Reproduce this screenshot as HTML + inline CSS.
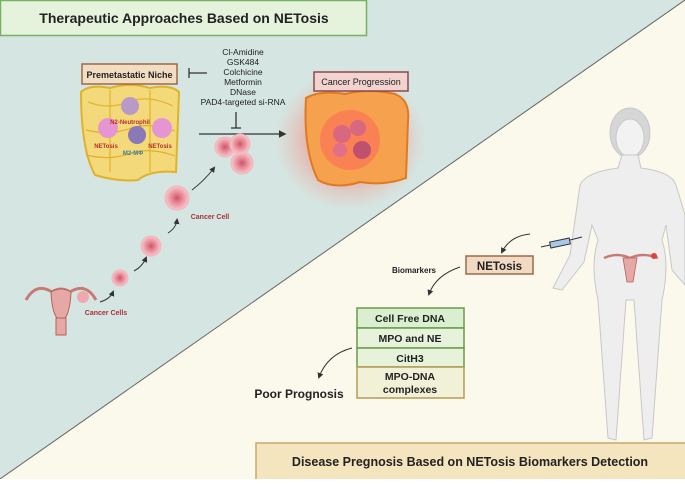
<!DOCTYPE html>
<html><head><style>
html,body{margin:0;padding:0}
body{width:685px;height:479px;overflow:hidden;font-family:"Liberation Sans",sans-serif}
</style></head><body>
<svg width="685" height="479" viewBox="0 0 685 479" xmlns="http://www.w3.org/2000/svg" font-family="Liberation Sans, sans-serif">
<defs>
<radialGradient id="glow"><stop offset="0" stop-color="#ff3b3b" stop-opacity="0.9"/><stop offset="0.6" stop-color="#ff6a5a" stop-opacity="0.35"/><stop offset="1" stop-color="#ff8a80" stop-opacity="0"/></radialGradient>
<radialGradient id="cell"><stop offset="0" stop-color="#c9566a"/><stop offset="0.45" stop-color="#e88a96"/><stop offset="1" stop-color="#f8c8cc"/></radialGradient>
<marker id="ah" markerWidth="6" markerHeight="6" refX="4" refY="3" orient="auto"><path d="M0,0 L6,3 L0,6 z" fill="#333"/></marker>
</defs>
<rect width="685" height="479" fill="#fbf8ec"/>
<polygon points="0,0 685,0 0,479" fill="#d5e5e1"/>
<line x1="685" y1="0" x2="0" y2="479" stroke="#666" stroke-width="1"/>
<!-- title -->
<rect x="0.5" y="0.5" width="366" height="35" fill="#e5f3dd" stroke="#77b163" stroke-width="1.5"/>
<text x="184" y="23" text-anchor="middle" font-size="14" font-weight="bold" fill="#222">Therapeutic Approaches Based on NETosis</text>
<!-- glow -->
<ellipse cx="350" cy="140" rx="75" ry="70" fill="url(#glow)"/>
<!-- niche tissue -->
<path d="M81,92 Q90,84 110,88 Q130,82 150,88 Q170,84 179,92 L176,172 Q150,170 138,180 Q118,182 95,175 Q81,150 81,92z" fill="#f3d97a" stroke="#e0b22a" stroke-width="2"/>
<g stroke="#e0b22a" fill="none" stroke-width="1.2">
<path d="M88,102 q20,8 40,0 q20,-8 45,4"/><path d="M86,130 q25,6 45,-2 q20,-6 44,3"/><path d="M86,155 q25,6 45,-2 q20,-6 44,3"/><path d="M110,90 v82"/><path d="M150,90 v82"/>
</g>
<circle cx="130" cy="106" r="9" fill="#b99ac6"/>
<circle cx="108" cy="128" r="10" fill="#e596d2"/>
<circle cx="162" cy="128" r="10" fill="#e596d2"/>
<circle cx="137" cy="135" r="9" fill="#8a78b8"/>
<text x="130" y="124" text-anchor="middle" font-size="6" font-weight="bold" fill="#b8312a">N2-Neutrophil</text>
<text x="106" y="148" text-anchor="middle" font-size="6" font-weight="bold" fill="#b8312a">NETosis</text>
<text x="160" y="148" text-anchor="middle" font-size="6" font-weight="bold" fill="#b8312a">NETosis</text>
<text x="133" y="155" text-anchor="middle" font-size="6" font-weight="bold" fill="#3a7f9a">M2-MΦ</text>
<rect x="82" y="64" width="95" height="20" fill="#f2dcc2" stroke="#9b6b4a" stroke-width="1.5"/>
<text x="129.5" y="78" text-anchor="middle" font-size="9" font-weight="bold" fill="#222">Premetastatic Niche</text>
<!-- drugs -->
<g font-size="8.5" text-anchor="middle" fill="#222">
<text x="243" y="55">Cl-Amidine</text><text x="243" y="65">GSK484</text><text x="243" y="75">Colchicine</text><text x="243" y="85">Metformin</text><text x="243" y="95">DNase</text><text x="243" y="105">PAD4-targeted si-RNA</text>
</g>
<g stroke="#333" stroke-width="1.3">
<line x1="189" y1="73" x2="207" y2="73"/><line x1="189" y1="68" x2="189" y2="78"/>
<line x1="236" y1="112" x2="236" y2="128"/><line x1="231" y1="128" x2="241" y2="128"/>
<line x1="199" y1="134" x2="284" y2="134" marker-end="url(#ah)"/>
</g>
<!-- cancer progression tissue -->
<path d="M306,98 Q320,90 345,94 Q370,88 395,94 Q410,100 408,120 L406,178 Q385,186 360,182 Q335,190 318,180 Q303,150 306,98z" fill="#f6a14d" stroke="#e07a22" stroke-width="2"/>
<circle cx="350" cy="140" r="30" fill="#ff5a5a" opacity="0.45"/>
<circle cx="342" cy="134" r="9" fill="#d86880"/><circle cx="358" cy="128" r="8" fill="#d86880"/><circle cx="362" cy="150" r="9" fill="#c05070"/><circle cx="340" cy="150" r="7" fill="#e07088"/>
<rect x="314" y="72" width="94" height="19" fill="#f2d3cf" stroke="#8a4a4a" stroke-width="1.5"/>
<text x="361" y="85" text-anchor="middle" font-size="9" fill="#222">Cancer Progression</text>
<!-- cancer cells -->
<circle cx="225" cy="147" r="10" fill="url(#cell)" stroke="#f2b4ba"/>
<circle cx="240" cy="144" r="10" fill="url(#cell)" stroke="#f2b4ba"/>
<circle cx="242" cy="163" r="11" fill="url(#cell)" stroke="#f2b4ba"/>
<circle cx="177" cy="198" r="12" fill="url(#cell)" stroke="#f2b4ba"/>
<circle cx="151" cy="246" r="10" fill="url(#cell)" stroke="#f2b4ba"/>
<circle cx="120" cy="278" r="8" fill="url(#cell)" stroke="#f2b4ba"/>
<circle cx="83" cy="297" r="6" fill="#f0a8b0"/>
<text x="210" y="219" text-anchor="middle" font-size="7" font-weight="bold" fill="#a8323a">Cancer Cell</text>
<text x="106" y="315" text-anchor="middle" font-size="7" font-weight="bold" fill="#a8323a">Cancer Cells</text>
<g stroke="#333" stroke-width="1" fill="none">
<path d="M192,190 Q205,180 214,168" marker-end="url(#ah)"/>
<path d="M168,233 Q176,228 177,220" marker-end="url(#ah)"/>
<path d="M134,271 Q142,267 146,258" marker-end="url(#ah)"/>
<path d="M100,302 Q110,299 113,292" marker-end="url(#ah)"/>
</g>
<!-- uterus -->
<g fill="#e6a8a4" stroke="#b5615c" stroke-width="1">
<path d="M26,300 Q36,282 52,292 Q61,286 70,292 Q86,282 96,300" fill="none" stroke="#c97a75" stroke-width="3"/>
<path d="M51,292 Q61,286 71,292 Q70,312 65,318 L57,318 Q52,312 51,292z"/>
<rect x="56" y="318" width="10" height="17"/>
</g>
<!-- woman -->
<g fill="#eeeeee" stroke="#c8c8c8" stroke-width="1">
<ellipse cx="630" cy="133" rx="20" ry="25" fill="#d6d6d6"/>
<ellipse cx="630" cy="138" rx="14" ry="19" fill="#f2f2f2"/>
<path d="M622,155 L638,155 L641,168 Q672,172 676,185 L685,215 L685,285 L672,270 L666,225 L662,240 Q670,265 662,300 L652,438 L644,440 L634,300 L626,300 L616,440 L608,438 L598,300 Q590,265 598,240 L592,225 L584,262 L562,290 L553,288 L570,255 L580,185 Q586,172 618,168z"/>
</g>
<path d="M604,258 Q617,252 630,258 Q643,252 658,258" fill="none" stroke="#c97a75" stroke-width="2.5"/>
<path d="M623,258 L637,258 L633,282 L627,282z" fill="#e6a8a4" stroke="#b5615c" stroke-width="0.8"/>
<circle cx="654" cy="256" r="3" fill="#e04040"/>
<!-- syringe -->
<g stroke="#333" stroke-width="1">
<rect x="550" y="240" width="20" height="6" fill="#a8c8e8" transform="rotate(-12 560 243)"/>
<line x1="570" y1="240" x2="582" y2="237"/>
<line x1="541" y1="247" x2="550" y2="245"/>
</g>
<path d="M530,234 Q510,236 502,252" fill="none" stroke="#333" stroke-width="1" marker-end="url(#ah)"/>
<!-- NETosis -->
<rect x="466" y="256" width="67" height="18" fill="#f2d9c3" stroke="#9b6b4a" stroke-width="1.5"/>
<text x="499.5" y="270" text-anchor="middle" font-size="11.5" font-weight="bold" fill="#222">NETosis</text>
<text x="414" y="273" text-anchor="middle" font-size="8" font-weight="bold" fill="#222">Biomarkers</text>
<path d="M460,267 Q436,275 429,294" fill="none" stroke="#333" stroke-width="1" marker-end="url(#ah)"/>
<!-- stack -->
<g stroke="#6a9a4e" stroke-width="1.5">
<rect x="357" y="308" width="107" height="20" fill="#d9efcf"/>
<rect x="357" y="328" width="107" height="20" fill="#e6f3da"/>
<rect x="357" y="348" width="107" height="19" fill="#e6f3da"/>
<rect x="357" y="367" width="107" height="31" fill="#f1f1d8" stroke="#b49a55"/>
</g>
<g font-size="10.5" font-weight="bold" text-anchor="middle" fill="#222">
<text x="410" y="322">Cell Free DNA</text><text x="410" y="342">MPO and NE</text><text x="410" y="362">CitH3</text>
<text x="410" y="380">MPO-DNA</text><text x="410" y="393">complexes</text>
</g>
<path d="M352,348 Q328,354 319,377" fill="none" stroke="#333" stroke-width="1" marker-end="url(#ah)"/>
<text x="299" y="398" text-anchor="middle" font-size="12" font-weight="bold" fill="#222">Poor Prognosis</text>
<!-- bottom banner -->
<rect x="256" y="443" width="430" height="37" fill="#f4e5bf" stroke="#c9a66f" stroke-width="1.5"/>
<text x="470" y="466" text-anchor="middle" font-size="12.5" font-weight="bold" fill="#222">Disease Pregnosis Based on NETosis Biomarkers Detection</text>
</svg>
</body></html>
